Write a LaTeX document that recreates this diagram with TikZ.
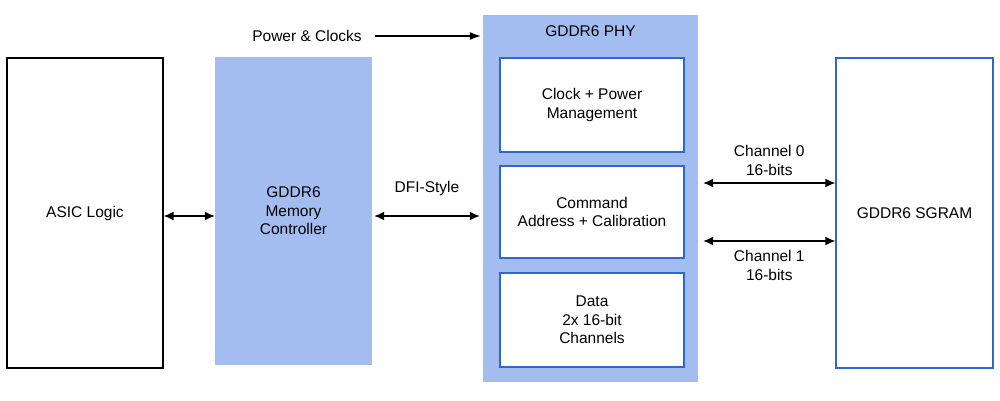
\documentclass[tikz,border=0pt]{standalone}
\usepackage{fontspec}
\setmainfont{Liberation Sans}
\usetikzlibrary{arrows.meta}

\definecolor{phyblue}{HTML}{A3BDF0}
\definecolor{edgeblue}{HTML}{2F66D0}

\tikzset{
  lbl/.style={font=\fontsize{15.5}{18.5}\selectfont, align=center, inner sep=0pt},
  fillblk/.style={fill=phyblue, draw=none},
  subblk/.style={fill=white, draw=edgeblue, line width=1.3pt},
  link/.style={<->, line width=1.4pt, >={Latex[length=10pt,width=9pt]}},
}

\begin{document}
\begin{tikzpicture}[x=1pt,y=-1pt]
  \useasboundingbox (0,0) rectangle (1000,400);

  % blocks
  \node[lbl, draw=black, line width=1.2pt, minimum width=156pt, minimum height=310pt] (asic) at (85,213) {ASIC Logic};
  \node[lbl, fillblk, minimum width=157pt, minimum height=308pt] (mc) at (293.5,211) {GDDR6\\Memory\\Controller};
  \node[fillblk, minimum width=215pt, minimum height=367pt] (phy) at (590.5,198.5) {};
  \node[lbl] (phytitle) at (590.5,31) {GDDR6 PHY};
  \node[lbl, subblk, minimum width=184pt, minimum height=94pt] (clkpwr) at (592,105) {Clock + Power\\Management};
  \node[lbl, subblk, minimum width=184pt, minimum height=92pt] (cmd) at (592,212) {Command\\Address + Calibration};
  \node[lbl, subblk, minimum width=184pt, minimum height=94pt] (data) at (592,320) {Data\\2x 16-bit\\Channels};
  \node[lbl, draw=edgeblue, line width=1.3pt, minimum width=157pt, minimum height=310pt] (sgram) at (914.5,213) {GDDR6 SGRAM};

  % connections
  \draw[link] (asic.east |- 0,216) -- (mc.west |- 0,216);
  \draw[link] ([xshift=2pt]mc.east |- 0,216) -- node[lbl, above=20pt] (dfi) {DFI-Style} ([xshift=-3pt]phy.west |- 0,216);

  \node[lbl] (pwrclk) at (307,36) {Power \& Clocks};
  \draw[->, line width=1.1pt, >={Latex[length=11pt,width=8pt]}] ([xshift=13pt]pwrclk.east) -- ([xshift=-2pt]phy.west |- pwrclk);

  \draw[link] ([xshift=5pt]phy.east |- 0,183) -- node[lbl, above=7pt] (ch0) {Channel 0\\16-bits} (sgram.west |- 0,183);
  \draw[link] ([xshift=5pt]phy.east |- 0,241) -- node[lbl, below=9pt] (ch1) {Channel 1\\16-bits} (sgram.west |- 0,241);
\end{tikzpicture}
\end{document}
